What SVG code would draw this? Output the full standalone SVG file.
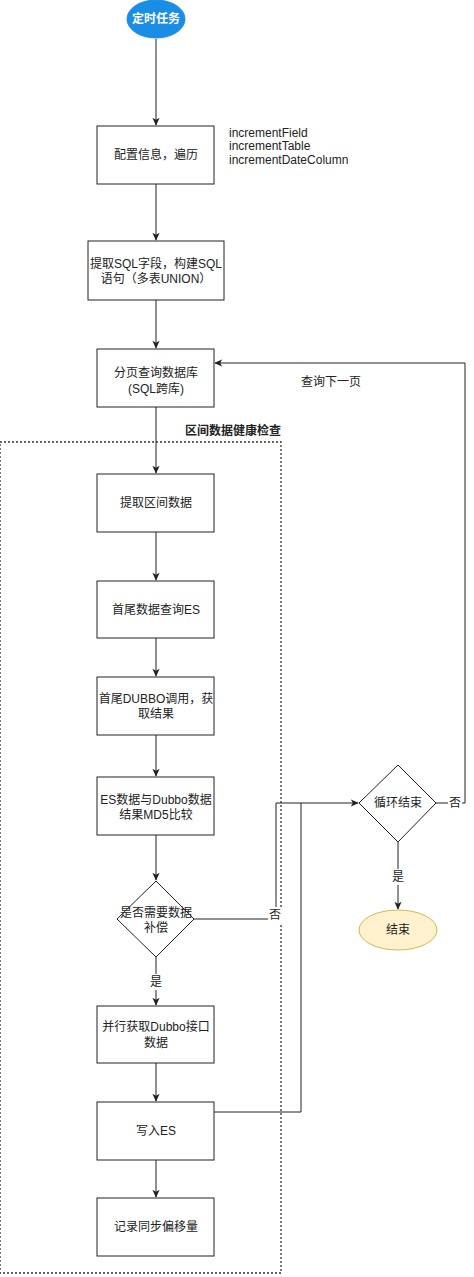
<svg xmlns="http://www.w3.org/2000/svg" width="474" height="1277" viewBox="0 0 474 1277">
<style>
text{font-family:"Liberation Sans","Noto Sans CJK SC",sans-serif;font-size:12px;fill:#222;text-anchor:middle;dominant-baseline:central}
.box{fill:#fff;stroke:#222;stroke-width:1}
.dia{fill:#fff;stroke:#222;stroke-width:1}
.edge{fill:none;stroke:#222;stroke-width:1}
.lbl{fill:#fff}
</style>
<defs>
<marker id="arr" viewBox="0 0 10 10" refX="9" refY="5" markerWidth="8" markerHeight="8" markerUnits="userSpaceOnUse" orient="auto">
<path d="M0,0.5 L10,5 L0,9.5 L2.5,5 Z" fill="#222"/>
</marker>
</defs>
<rect x="0" y="442" width="281" height="831" fill="none" stroke="#333" stroke-width="1.3" stroke-dasharray="2 2"/>
<text x="233" y="431" style="font-weight:bold">区间数据健康检查</text>
<g id="edges">
<path class="edge" d="M156,39 V125" marker-end="url(#arr)"/>
<path class="edge" d="M156,184 V240" marker-end="url(#arr)"/>
<path class="edge" d="M156,300 V348" marker-end="url(#arr)"/>
<path class="edge" d="M156,407 V473" marker-end="url(#arr)"/>
<path class="edge" d="M156,532 V580" marker-end="url(#arr)"/>
<path class="edge" d="M156,638 V676" marker-end="url(#arr)"/>
<path class="edge" d="M156,735 V776" marker-end="url(#arr)"/>
<path class="edge" d="M156,835 V880" marker-end="url(#arr)"/>
<path class="edge" d="M156,957 V1005" marker-end="url(#arr)"/>
<path class="edge" d="M156,1063 V1101" marker-end="url(#arr)"/>
<path class="edge" d="M156,1160 V1197" marker-end="url(#arr)"/>
<path class="edge" d="M194,919 H276 V803 H358" marker-end="url(#arr)"/>
<path class="edge" d="M214,1112 H301 V803"/>
<path class="edge" d="M436,803 H465 V363 H215" marker-end="url(#arr)"/>
<path class="edge" d="M398,842 V909" marker-end="url(#arr)"/>
<rect class="lbl" x="149" y="974" width="14" height="16"/>
<text x="156" y="982">是</text>
<rect class="lbl" x="268" y="907" width="14" height="16"/>
<text x="275" y="915">否</text>
<rect class="lbl" x="448" y="795" width="14" height="16"/>
<text x="455" y="803">否</text>
<rect class="lbl" x="391" y="869" width="14" height="16"/>
<text x="398" y="877">是</text>
<text x="331" y="382">查询下一页</text>
</g>
<g id="start">
<ellipse cx="156" cy="19" rx="29" ry="19" fill="#1a8de6" stroke="#1a8de6"/>
<text x="156" y="19" style="fill:#fff;font-weight:bold">定时任务</text>
</g>
<g id="config">
<rect class="box" x="97" y="126" width="117" height="58"/>
<text x="156" y="155">配置信息，遍历</text>
</g>
<g id="note">
<text x="229" y="133" style="text-anchor:start">incrementField</text>
<text x="229" y="146" style="text-anchor:start">incrementTable</text>
<text x="229" y="160" style="text-anchor:start">incrementDateColumn</text>
</g>
<g id="buildsql">
<rect class="box" x="88" y="241" width="136" height="59"/>
<text x="156" y="264">提取SQL字段，构建SQL</text>
<text x="156" y="279">语句（多表UNION）</text>
</g>
<g id="pagequery">
<rect class="box" x="97" y="349" width="117" height="58"/>
<text x="156" y="373">分页查询数据库</text>
<text x="156" y="389">(SQL跨库)</text>
</g>
<g id="extract">
<rect class="box" x="97" y="474" width="117" height="58"/>
<text x="156" y="503">提取区间数据</text>
</g>
<g id="esquery">
<rect class="box" x="97" y="581" width="117" height="57"/>
<text x="156" y="610">首尾数据查询ES</text>
</g>
<g id="dubbo">
<rect class="box" x="97" y="677" width="117" height="58"/>
<text x="156" y="699">首尾DUBBO调用，获</text>
<text x="156" y="714">取结果</text>
</g>
<g id="md5">
<rect class="box" x="97" y="777" width="117" height="58"/>
<text x="156" y="800">ES数据与Dubbo数据</text>
<text x="156" y="815">结果MD5比较</text>
</g>
<g id="needfix">
<path class="dia" d="M156,881 L194,919 L156,957 L117,919 Z"/>
<text x="156" y="913">是否需要数据</text>
<text x="156" y="928">补偿</text>
</g>
<g id="parallel">
<rect class="box" x="97" y="1006" width="117" height="57"/>
<text x="156" y="1027">并行获取Dubbo接口</text>
<text x="156" y="1043">数据</text>
</g>
<g id="writees">
<rect class="box" x="97" y="1102" width="117" height="58"/>
<text x="156" y="1131">写入ES</text>
</g>
<g id="offset">
<rect class="box" x="97" y="1198" width="117" height="58"/>
<text x="156" y="1227">记录同步偏移量</text>
</g>
<g id="loopend">
<path class="dia" d="M398,765 L436,803 L398,842 L359,803 Z"/>
<text x="398" y="803">循环结束</text>
</g>
<g id="end">
<ellipse cx="398" cy="930" rx="39" ry="20" fill="#fff2cc" stroke="#d6b656"/>
<text x="398" y="930">结束</text>
</g>
</svg>
